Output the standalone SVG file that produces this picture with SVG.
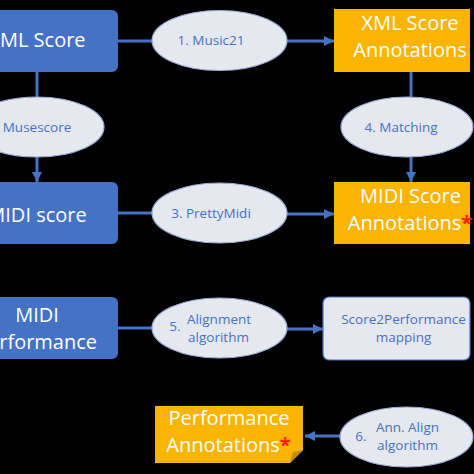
<svg xmlns="http://www.w3.org/2000/svg" width="474" height="474" viewBox="0 0 474 474">
<style>
.bg{fill:#000}
.blue{fill:#4472c4}
.orange{fill:#fbb400}
.ell{fill:#e6e8ef;stroke:#9aaad4;stroke-width:1.2}
.gbox{fill:#e6e8ef;stroke:#4472c4;stroke-width:1.2}
.big{font-family:"Open Sans",sans-serif;font-size:20px;fill:#fff;text-anchor:middle}
.sm{font-family:"Open Sans",sans-serif;font-size:13.5px;fill:#4472c4;text-anchor:middle}
.ast{fill:#ff1a00;font-weight:bold}
.con{stroke:#4472c4;stroke-width:3;fill:none}
</style>
<defs>
<marker id="ah" viewBox="0 0 10 10" refX="10" refY="5" markerWidth="3.4" markerHeight="3.4" orient="auto" markerUnits="strokeWidth">
<path d="M0,0 L10,5 L0,10 Z" fill="#4472c4"/>
</marker>
</defs>
<rect class="bg" x="0" y="0" width="474" height="474"/>
<g id="connectors">
<line class="con" x1="118" y1="41" x2="152" y2="41"/>
<line class="con" x1="287" y1="41" x2="334" y2="41" marker-end="url(#ah)"/>
<line class="con" x1="37" y1="72" x2="37" y2="97"/>
<line class="con" x1="37" y1="157" x2="37" y2="182" marker-end="url(#ah)"/>
<line class="con" x1="411" y1="72" x2="411" y2="97"/>
<line class="con" x1="411" y1="157" x2="411" y2="182" marker-end="url(#ah)"/>
<line class="con" x1="118" y1="213" x2="152" y2="213"/>
<line class="con" x1="287" y1="214" x2="334" y2="214" marker-end="url(#ah)"/>
<line class="con" x1="118" y1="328" x2="152" y2="328"/>
<line class="con" x1="287" y1="329" x2="323" y2="329" marker-end="url(#ah)"/>
<line class="con" x1="340" y1="436" x2="305" y2="436" marker-end="url(#ah)"/>
</g>
<g id="xml-score">
<rect class="blue" x="-44" y="10" width="162" height="62" rx="6"/>
<text class="big" x="37" y="47">XML Score</text>
</g>
<g id="music21">
<ellipse class="ell" cx="219.5" cy="40.5" rx="67.5" ry="30"/>
<text class="sm" x="211" y="45">1. Music21</text>
</g>
<g id="xml-score-annotations">
<rect class="orange" x="334" y="9" width="136" height="63"/>
<text class="big" x="410" y="29.5">XML Score</text>
<text class="big" x="410" y="57">Annotations</text>
</g>
<g id="musescore">
<ellipse class="ell" cx="37" cy="127" rx="67" ry="30"/>
<text class="sm" x="37" y="132">Musescore</text>
</g>
<g id="matching">
<ellipse class="ell" cx="407" cy="127" rx="66" ry="30"/>
<text class="sm" x="401" y="132">4. Matching</text>
</g>
<g id="midi-score">
<rect class="blue" x="-44" y="182" width="162" height="62" rx="6"/>
<text class="big" x="37" y="222">MIDI score</text>
</g>
<g id="prettymidi">
<ellipse class="ell" cx="219.5" cy="213" rx="67.5" ry="30"/>
<text class="sm" x="211" y="218">3. PrettyMidi</text>
</g>
<g id="midi-score-annotations">
<rect class="orange" x="334" y="182" width="136" height="62"/>
<text class="big" x="410.5" y="203">MIDI Score</text>
<text class="big" x="410" y="230">Annotations<tspan class="ast">*</tspan></text>
</g>
<g id="midi-performance">
<rect class="blue" x="-44" y="297" width="162" height="62" rx="6"/>
<text class="big" x="37" y="322">MIDI</text>
<text class="big" x="36.5" y="349">Performance</text>
</g>
<g id="alignment">
<ellipse class="ell" cx="219.5" cy="328" rx="67.5" ry="30"/>
<text class="sm" x="175" y="331">5.</text>
<text class="sm" x="219" y="324">Alignment</text>
<text class="sm" x="218.5" y="342">algorithm</text>
</g>
<g id="score2performance">
<rect class="gbox" x="323" y="297" width="147" height="63" rx="6"/>
<text class="sm" x="403.5" y="324">Score2Performance</text>
<text class="sm" x="403.5" y="342">mapping</text>
</g>
<g id="ann-align">
<ellipse class="ell" cx="406.5" cy="437" rx="66.5" ry="30"/>
<text class="sm" x="361" y="441">6.</text>
<text class="sm" x="407.5" y="432">Ann. Align</text>
<text class="sm" x="407.5" y="450">algorithm</text>
</g>
<g id="performance-annotations">
<path class="orange" d="M155,406 H303 V450 L290,463 H155 Z"/>
<path d="M303,450 L290,463 L293,452 Z" fill="#c48c00"/>
<text class="big" x="229" y="425">Performance</text>
<text class="big" x="228.5" y="452">Annotations<tspan class="ast">*</tspan></text>
</g>
</svg>
